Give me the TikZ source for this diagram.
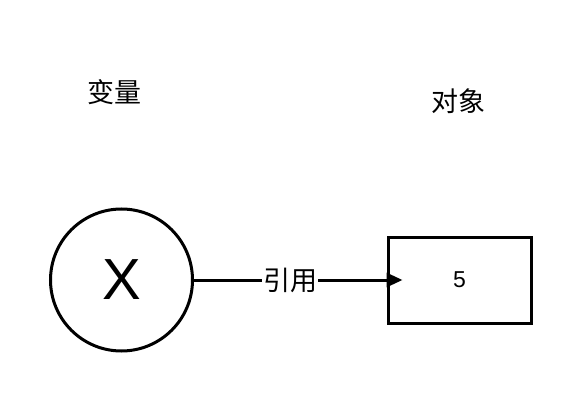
\documentclass[tikz,border=0pt]{standalone}
\usepackage{fontspec}
\setmainfont{Noto Sans CJK SC}
\newfontfamily\latinfont{Liberation Sans}
\usetikzlibrary{arrows.meta}

\begin{document}
\begin{tikzpicture}[x=1pt,y=1pt,
	varnode/.style={circle, draw, line width=3pt, minimum size=142pt, inner sep=0pt, font=\latinfont\fontsize{58}{58}\selectfont},
	objnode/.style={rectangle, draw, line width=3pt, minimum width=143pt, minimum height=86pt, inner sep=0pt, font=\latinfont\fontsize{23}{23}\selectfont},
	heading/.style={font=\fontsize{27}{27}\selectfont},
	refline/.style={line width=3pt, -{Triangle[length=16pt,width=14pt]}, shorten >=-16pt}
]
	\useasboundingbox (0,0) rectangle (582,400);

	% Titles
	\node[heading] (varlabel) at (114,307.5) {变量};
	\node[heading] (objlabel) at (458,299) {对象};

	% Variable and object
	\node[varnode] (x) at (121.5,120) {X};
	\node[objnode] (five) at (459.5,120) {5};

	% Reference
	\draw[refline] (x) -- node[heading, fill=white, inner sep=1pt] (reflabel) {引用} (five);
\end{tikzpicture}
\end{document}
